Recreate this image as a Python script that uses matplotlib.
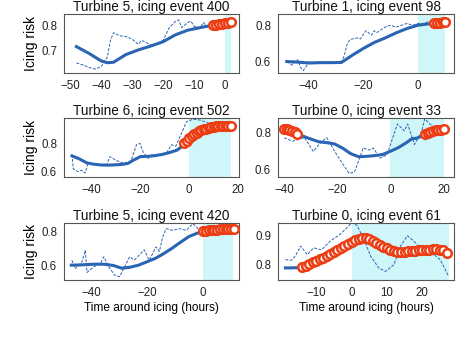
import numpy as np
import matplotlib
matplotlib.use("Agg")
import matplotlib.pyplot as plt

plt.rcParams['font.family'] = ['Liberation Sans', 'DejaVu Sans']
plt.rcParams['axes.unicode_minus'] = True

# ---- event 400, turbine 5
t400_solid_x = [-48, -44, -40, -38, -36, -32, -28, -24, -20, -16, -12, -8, -5, -4]
t400_solid_y = [0.716, 0.690, 0.660, 0.653, 0.655, 0.685, 0.703, 0.718, 0.735, 0.762, 0.780, 0.790, 0.797, 0.800]
t400_dash_x = [-48, -46, -44, -42, -40, -38, -37, -36, -34, -32, -30, -28, -27, -26, -24, -22, -20,
               -18, -16, -15, -14, -12, -11, -10, -8, -7, -6, -4, -2, 0, 2]
t400_dash_y = [0.652, 0.645, 0.635, 0.628, 0.638, 0.675, 0.740, 0.770, 0.758, 0.755, 0.745, 0.725, 0.740,
               0.735, 0.722, 0.728, 0.740, 0.790, 0.815, 0.820, 0.790, 0.810, 0.815, 0.795, 0.790, 0.810,
               0.795, 0.795, 0.800, 0.805, 0.810]
t400_risk_x = [-4, -3, -2, -1, 0, 1, 2]
t400_risk_y = [0.800, 0.801, 0.803, 0.805, 0.806, 0.808, 0.810]

# ---- event 98, turbine 1
t98_solid_x = [-48, -44, -40, -36, -32, -28, -24, -20, -16, -12, -8, -4, 0, 4, 6]
t98_solid_y = [0.600, 0.597, 0.592, 0.594, 0.594, 0.595, 0.635, 0.672, 0.705, 0.730, 0.758, 0.782, 0.800, 0.808, 0.810]
t98_dash_x = [-48, -47, -46, -45, -44, -43, -42, -41, -40, -38, -36, -35, -33, -30, -28, -27, -26, -25,
              -24, -22, -21, -20, -19, -17, -16, -15, -13, -12, -10, -8, -6, -4, -2, 0, 2, 4, 6]
t98_dash_y = [0.600, 0.590, 0.580, 0.600, 0.610, 0.570, 0.550, 0.570, 0.600, 0.590, 0.590, 0.600, 0.595,
              0.590, 0.600, 0.630, 0.690, 0.720, 0.725, 0.730, 0.725, 0.750, 0.770, 0.745, 0.770, 0.760,
              0.780, 0.790, 0.800, 0.790, 0.800, 0.810, 0.800, 0.810, 0.810, 0.820, 0.820]
t98_risk_x = [6, 7, 8, 9, 10]
t98_risk_y = [0.810, 0.812, 0.815, 0.817, 0.818]

# ---- event 502, turbine 6
t502_solid_x = [-48, -45, -42, -39, -36, -33, -30, -27, -25, -23, -20, -17, -14, -11, -8, -5, -2]
t502_solid_y = [0.711, 0.690, 0.662, 0.652, 0.647, 0.646, 0.648, 0.652, 0.659, 0.680, 0.706, 0.708, 0.713,
                0.722, 0.735, 0.752, 0.790]
t502_dash_x = [-48, -47.5, -45.5, -44, -42.7, -41.4, -38, -34, -32.5, -30, -27, -24, -21.6, -20.2, -18.9,
               -16.8, -15, -12, -9.5, -7.3, -5.5, -3.2, -1.1, 1.6, 4.3, 8.4, 12.5, 17]
t502_dash_y = [0.720, 0.620, 0.600, 0.610, 0.590, 0.660, 0.650, 0.640, 0.706, 0.680, 0.660, 0.670, 0.790,
               0.800, 0.740, 0.694, 0.720, 0.718, 0.725, 0.790, 0.780, 0.870, 0.953, 0.970, 0.965, 0.940,
               0.930, 0.930]
t502_risk_x = list(range(-2, 18))
t502_risk_y = [0.800, 0.818, 0.835, 0.852, 0.864, 0.875, 0.884, 0.891, 0.898, 0.904, 0.909, 0.913, 0.917,
               0.920, 0.922, 0.924, 0.925, 0.925, 0.925, 0.925]

# ---- event 33, turbine 0
t33_risk_a_x = [-40, -39, -38, -37, -36, -35]
t33_risk_a_y = [0.820, 0.818, 0.815, 0.810, 0.803, 0.795]
t33_solid_x = [-35, -33, -30, -27, -24, -21, -18, -15, -12, -9, -6, -3, 0, 3, 6, 8, 10, 13]
t33_solid_y = [0.795, 0.781, 0.765, 0.750, 0.745, 0.738, 0.715, 0.685, 0.668, 0.670, 0.674, 0.680, 0.698,
               0.718, 0.745, 0.766, 0.770, 0.790]
t33_dash_x = [-40, -36.8, -32.3, -29, -25.8, -23.9, -20.6, -18.1, -15.5, -13.5, -11.6, -10.3, -8, -6.5,
              -3.9, -1.3, 2.6, 5.2, 6.5, 9, 11.6, 12.9, 14.8, 17.5, 20]
t33_dash_y = [0.772, 0.753, 0.772, 0.697, 0.753, 0.772, 0.688, 0.632, 0.576, 0.585, 0.660, 0.716, 0.705,
              0.716, 0.660, 0.678, 0.847, 0.810, 0.847, 0.735, 0.800, 0.875, 0.847, 0.820, 0.810]
t33_risk_b_x = [13, 14, 15, 16, 17, 18, 19, 20]
t33_risk_b_y = [0.790, 0.797, 0.803, 0.808, 0.812, 0.815, 0.817, 0.819]

# ---- event 420, turbine 5
t420_solid_x = [-47, -44, -41, -38, -35, -32, -29, -26, -23, -20, -17, -14, -11, -8, -5, -2, 0]
t420_solid_y = [0.600, 0.601, 0.604, 0.606, 0.605, 0.598, 0.582, 0.588, 0.600, 0.620, 0.640, 0.668, 0.700,
                0.735, 0.768, 0.788, 0.796]
t420_dash_x = [-46.8, -45.6, -44.4, -43.2, -42, -41.4, -39, -36.6, -35.4, -33.6, -31.6, -29.8, -28, -26.2,
               -24.5, -22.8, -21, -19.2, -16.8, -15.6, -14.4, -13.2, -10.8, -8.4, -6, -3.6, -1.8, 0, 2]
t420_dash_y = [0.629, 0.580, 0.600, 0.620, 0.687, 0.557, 0.590, 0.610, 0.649, 0.590, 0.542, 0.532, 0.590,
               0.649, 0.630, 0.658, 0.690, 0.629, 0.707, 0.680, 0.765, 0.814, 0.804, 0.814, 0.804, 0.843,
               0.814, 0.805, 0.808]
t420_risk_x = list(range(0, 12))
t420_risk_y = [0.800, 0.802, 0.804, 0.806, 0.807, 0.808, 0.809, 0.810, 0.810, 0.810, 0.809, 0.809]

# ---- event 61, turbine 0
t61_solid_x = [-18.7, -17, -15, -14]
t61_solid_y = [0.789, 0.789, 0.790, 0.792]
t61_dash_x = [-18.7, -17, -15.8, -14.4, -12.5, -10.7, -8.5, -6, -3.2, -1.2, 0.2, 1.6, 3.5, 5.4, 7.7, 9.6,
              12, 13.9, 15.8, 17.6, 20.5, 23.3, 25.1, 27.5]
t61_dash_y = [0.817, 0.815, 0.831, 0.863, 0.834, 0.857, 0.850, 0.880, 0.903, 0.926, 0.944, 0.932, 0.886,
              0.829, 0.789, 0.777, 0.800, 0.863, 0.898, 0.880, 0.840, 0.834, 0.817, 0.760]
t61_risk_x = list(range(-14, 28))
t61_risk_y = [0.792, 0.797, 0.803, 0.809, 0.814, 0.819, 0.824, 0.830, 0.836, 0.842, 0.849, 0.857, 0.864,
              0.871, 0.877, 0.883, 0.888, 0.891, 0.891, 0.888, 0.881, 0.873, 0.866, 0.860, 0.855, 0.850,
              0.846, 0.843, 0.842, 0.843, 0.845, 0.846, 0.847, 0.848, 0.849, 0.850, 0.851, 0.852, 0.852,
              0.851, 0.848, 0.838]

BLUE = '#2a64b4'
RED = '#ec3d14'
CYAN = '#cff6f9'

panels = [
    dict(title='Turbine 5, icing event 400', solid=(t400_solid_x, t400_solid_y), dash=(t400_dash_x, t400_dash_y),
         risk=[(t400_risk_x, t400_risk_y)], span=(0, 2), xlim=(-52, 4.5), ylim=(0.613, 0.843),
         xticks=[-50, -40, -30, -20, -10, 0], yticks=[0.7, 0.8]),
    dict(title='Turbine 1, icing event 98', solid=(t98_solid_x, t98_solid_y), dash=(t98_dash_x, t98_dash_y),
         risk=[(t98_risk_x, t98_risk_y)], span=(0, 10), xlim=(-51.2, 13.2), ylim=(0.537, 0.862),
         xticks=[-40, -20, 0], yticks=[0.6, 0.8]),
    dict(title='Turbine 6, icing event 502', solid=(t502_solid_x, t502_solid_y), dash=(t502_dash_x, t502_dash_y),
         risk=[(t502_risk_x, t502_risk_y)], span=(0, 17.3), xlim=(-51.3, 20.4), ylim=(0.562, 0.979),
         xticks=[-40, -20, 0, 20], yticks=[0.6, 0.8]),
    dict(title='Turbine 0, icing event 33', solid=(t33_solid_x, t33_solid_y), dash=(t33_dash_x, t33_dash_y),
         risk=[(t33_risk_a_x, t33_risk_a_y), (t33_risk_b_x, t33_risk_b_y)], span=(0, 20.3),
         xlim=(-42.3, 23.9), ylim=(0.557, 0.88), xticks=[-40, -20, 0, 20], yticks=[0.6, 0.8]),
    dict(title='Turbine 5, icing event 420', solid=(t420_solid_x, t420_solid_y), dash=(t420_dash_x, t420_dash_y),
         risk=[(t420_risk_x, t420_risk_y)], span=(0, 10.8), xlim=(-49.6, 12.8), ylim=(0.513, 0.847),
         xticks=[-40, -20, 0], yticks=[0.6, 0.8]),
    dict(title='Turbine 0, icing event 61', solid=(t61_solid_x, t61_solid_y), dash=(t61_dash_x, t61_dash_y),
         risk=[(t61_risk_x, t61_risk_y)], span=(0, 27.5), xlim=(-20.8, 29), ylim=(0.748, 0.941),
         xticks=[-10, 0, 10, 20], yticks=[0.8, 0.9]),
]

W, H = 474, 338
fig = plt.figure(figsize=(W / 100, H / 100), dpi=100)

col_x = [(64, 239), (278, 454)]
row_y = [(14, 73), (118, 177), (223, 280)]

for i, p in enumerate(panels):
    r, c = divmod(i, 2)
    x0, x1 = col_x[c]
    y0, y1 = row_y[r]
    ax = fig.add_axes([x0 / W, 1 - y1 / H, (x1 - x0) / W, (y1 - y0) / H])

    ax.axvspan(*p['span'], color=CYAN, lw=0, zorder=0)
    ax.plot(*p['dash'], color=BLUE, lw=0.7, ls=(0, (3, 1.5)), zorder=2)
    ax.plot(*p['solid'], color=BLUE, lw=2.2, zorder=3)
    for rx, ry in p['risk']:
        for k in range(len(rx)):
            ax.plot(rx[k], ry[k], 'o', ms=6.2, mfc='white', mec=RED, mew=1.8, zorder=4 + k * 0.01)

    ax.set_xlim(*p['xlim'])
    ax.set_ylim(*p['ylim'])
    ax.set_xticks(p['xticks'])
    ax.set_yticks(p['yticks'])
    ax.set_yticklabels([f'{v:.1f}' for v in p['yticks']])
    ax.tick_params(length=0, labelsize=8.3, pad=5, colors='#222222')
    for s in ax.spines.values():
        s.set_color('#555555')
        s.set_linewidth(0.8)
    ax.set_title(p['title'], fontsize=9.8, pad=1.5, color='#111111')
    if c == 0:
        ax.set_ylabel('Icing risk', fontsize=10, labelpad=2)
    if r == 2:
        ax.set_xlabel('Time around icing (hours)', fontsize=8.6, labelpad=2.5)

fig.savefig('out.png', dpi=100)
